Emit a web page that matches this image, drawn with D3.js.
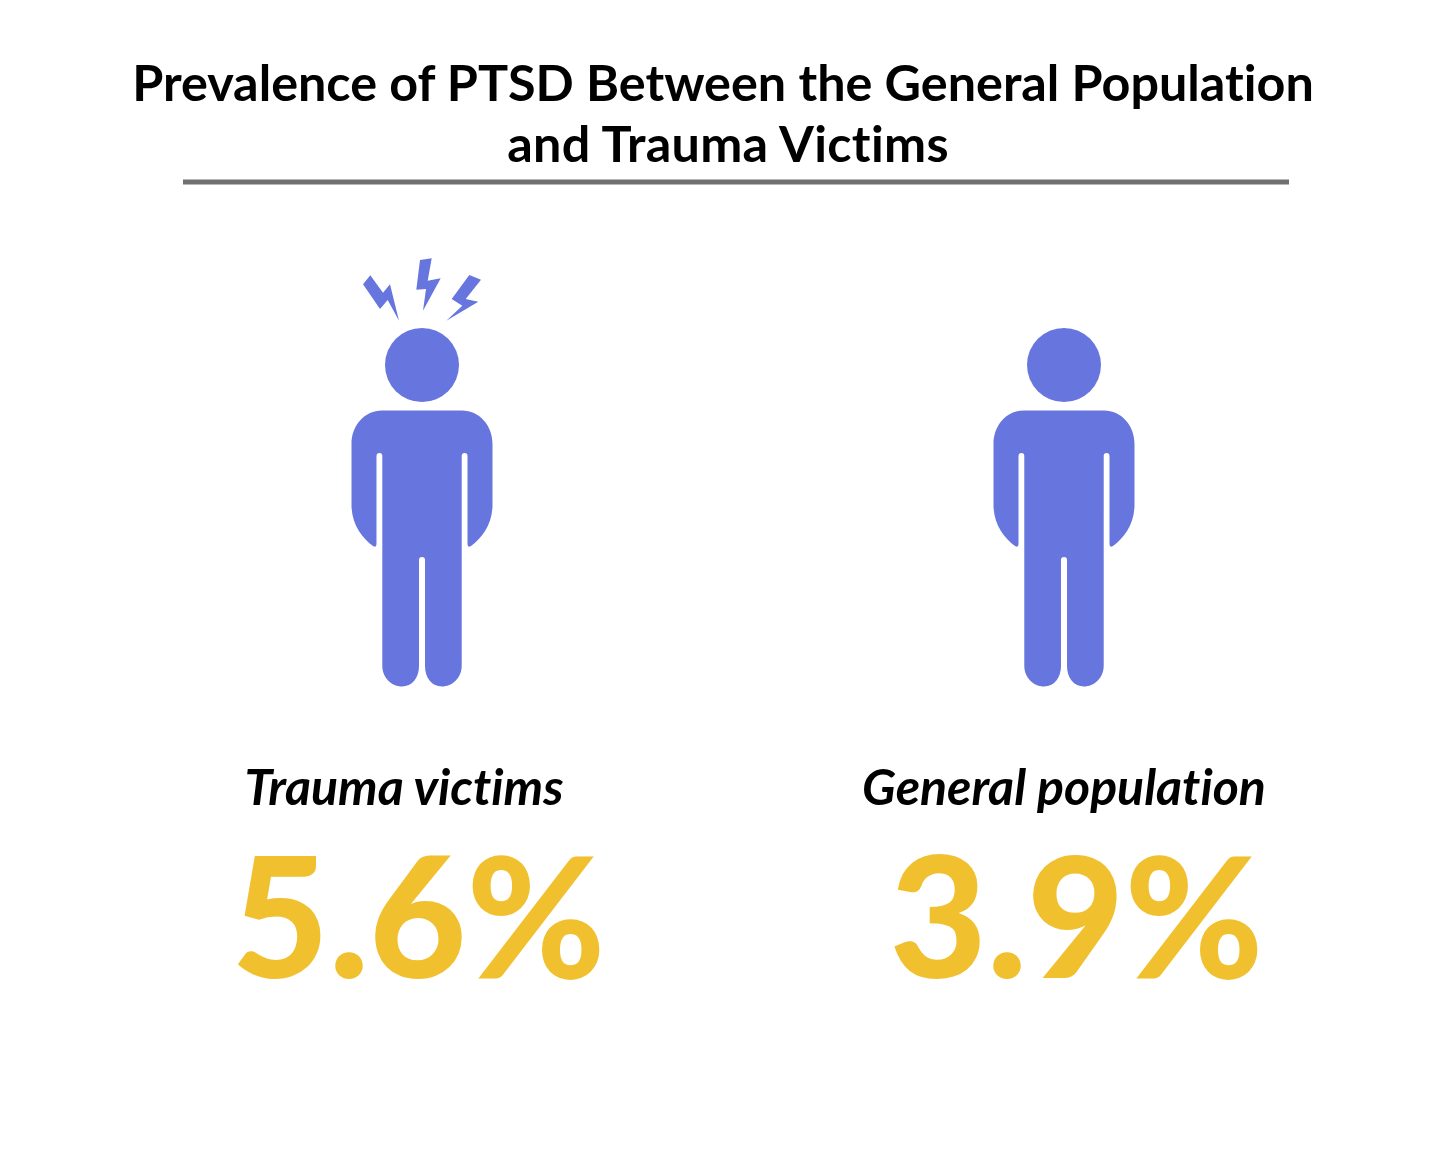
<!DOCTYPE html>
<html><head><meta charset="utf-8">
<script src="https://cdn.jsdelivr.net/npm/d3@7/dist/d3.min.js"></script>
<style>html,body{margin:0;background:#fff}svg{display:block}text{font-family:Lato,sans-serif;font-variant-ligatures:none;font-feature-settings:"liga" 0}</style>
</head><body><svg id="c" width="1456" height="1165"></svg>
<script>
const titleLines = ["Prevalence of PTSD Between the General Population","and Trauma Victims"];
const categories = ["Trauma victims","General population"];
const values = [5.6,3.9];
const distressed = [true,false];
const svg = d3.select("#c");
const x = d3.scalePoint().domain(categories).range([422,1064]);
const BLUE="#6776df", GOLD="#f1c02f";

svg.selectAll("text.title").data(titleLines).join("text").attr("class","title")
  .attr("x",(d,i)=>i?728:723).attr("y",(d,i)=>101+i*61).attr("text-anchor","middle")
  .attr("letter-spacing",(d,i)=>i?0.3:0)
  .attr("font-size",50.3).attr("font-weight",700).attr("fill","#000").text(d=>d);
svg.append("rect").attr("x",183).attr("y",179.5).attr("width",1106).attr("height",5).attr("fill","#707070");

// pictogram, drawn about x=0 with absolute page y
const body = "M-40 410.5H40C57 410.5 70.5 425 70.5 444V505C70.5 524 60 538 49 546Q45.5 548 45.5 544V456Q45.5 453 42.5 453Q39.7 453 39.7 456V666C39.7 678 30 686.5 20 686.5C10 686.5 3 678 3 666V560Q3 557 0 557Q-3 557 -3 560V666C-3 678 -10 686.5 -20 686.5C-30 686.5 -39.7 678 -39.7 666V456Q-39.7 453 -42.5 453Q-45.5 453 -45.5 456V544Q-45.5 548 -49 546C-60 538 -70.5 524 -70.5 505V444C-70.5 425 -57 410.5 -40 410.5Z";
const bolts = [
 "M-59 284.3L-51.7 275.3L-39 292.7L-32 284.3L-23 320.7L-34.3 300L-42 309Z",
 "M-2 260L9.7 258.3L5.7 280.7L18.7 278.3L1 310.7L4 289L-5.7 289.7Z",
 "M47.3 275L59 279.7L43.7 299L56.3 301.7L24.3 320.7L40.3 305.7L29.7 299Z"
];

const fig = svg.selectAll("g.fig").data(categories).join("g").attr("class","fig")
  .attr("transform",d=>`translate(${x(d)},0)`);
fig.append("circle").attr("cx",0).attr("cy",365).attr("r",37).attr("fill",BLUE);
fig.append("path").attr("d",body).attr("fill",BLUE);
fig.filter((d,i)=>distressed[i]).selectAll("path.bolt").data(bolts).join("path")
  .attr("class","bolt").attr("d",d=>d).attr("fill",BLUE);

const labelDx=[-18,0], valueDx=[-3.5,12.5];
svg.selectAll("text.label").data(categories).join("text").attr("class","label")
  .attr("x",(d,i)=>x(d)+labelDx[i]).attr("y",805).attr("text-anchor","middle")
  .attr("font-size",50).attr("font-weight",700).attr("font-style","italic").attr("fill","#000").text(d=>d);
svg.selectAll("text.value").data(values).join("text").attr("class","value")
  .attr("x",(d,i)=>x(categories[i])+valueDx[i]).attr("y",978).attr("text-anchor","middle")
  .attr("font-size",168).attr("font-weight",900).attr("fill",GOLD).text(d=>d3.format(".1f")(d)+"%");
</script></body></html>
